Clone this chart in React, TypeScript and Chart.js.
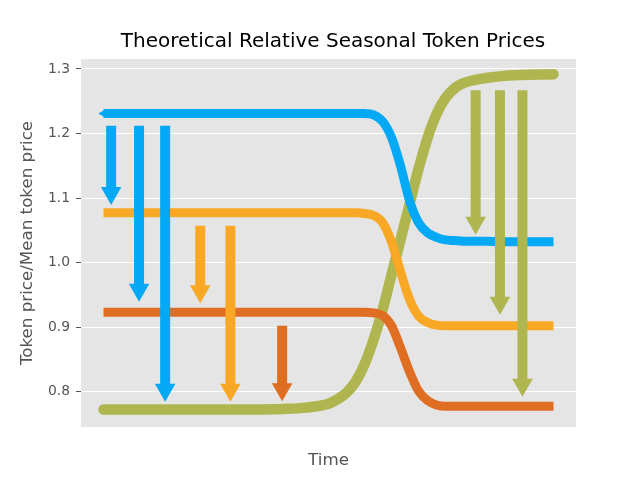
import { useEffect, useRef } from 'react';
import { Chart, registerables } from 'chart.js';

Chart.register(...registerables);

// time axis (no tick labels in the original, just relative position 0..100)
const timeSteps = [0, 10, 20, 30, 40, 45, 50, 52, 54, 56, 58, 60, 62, 64, 66, 68, 70, 72, 74, 76, 78, 80, 85, 90, 100];

const bluePrices = [1.231, 1.231, 1.231, 1.231, 1.231, 1.231, 1.231, 1.231, 1.231, 1.231, 1.231, 1.229, 1.219, 1.194, 1.150, 1.096, 1.062, 1.046, 1.039, 1.035, 1.034, 1.033, 1.033, 1.032, 1.032];
const orangePrices = [1.077, 1.077, 1.077, 1.077, 1.077, 1.077, 1.077, 1.077, 1.077, 1.077, 1.076, 1.073, 1.062, 1.032, 0.986, 0.943, 0.917, 0.907, 0.903, 0.902, 0.902, 0.902, 0.902, 0.902, 0.902];
const redPrices = [0.923, 0.923, 0.923, 0.923, 0.923, 0.923, 0.923, 0.923, 0.923, 0.923, 0.923, 0.922, 0.918, 0.902, 0.868, 0.831, 0.801, 0.786, 0.779, 0.777, 0.777, 0.777, 0.777, 0.777, 0.777];
const olivePrices = [0.772, 0.772, 0.772, 0.772, 0.773, 0.775, 0.781, 0.788, 0.798, 0.815, 0.842, 0.880, 0.926, 0.981, 1.035, 1.090, 1.145, 1.193, 1.230, 1.255, 1.270, 1.278, 1.286, 1.290, 1.292];

const yTicks = [0.8, 0.9, 1.0, 1.1, 1.2, 1.3];

// downward arrows: position in time, start price, tip price
const arrowTimes = [1.7, 7.9, 13.7, 21.5, 28.2, 39.7, 82.7, 88.1, 93.1];
const arrowStarts = [1.212, 1.212, 1.212, 1.057, 1.057, 0.902, 1.267, 1.267, 1.267];
const arrowEnds = [1.089, 0.939, 0.784, 0.937, 0.784, 0.785, 1.043, 0.919, 0.792];

const BLUE = '#03A9F4';
const ORANGE = '#F9A826';
const RED = '#E06E22';
const OLIVE = '#AFB64F';
const arrowColors = [BLUE, BLUE, BLUE, ORANGE, ORANGE, RED, OLIVE, OLIVE, OLIVE];

const FONT = '"DejaVu Sans", sans-serif';
const TITLE = 'Theoretical Relative Seasonal Token Prices';

const arrowPlugin = {
  id: 'priceArrows',
  afterDatasetsDraw(chart: Chart) {
    const { ctx } = chart;
    const x = chart.scales.x;
    const y = chart.scales.y;
    ctx.save();
    arrowTimes.forEach((t, i) => {
      const px = x.getPixelForValue(t);
      const top = y.getPixelForValue(arrowStarts[i]);
      const tip = y.getPixelForValue(arrowEnds[i]);
      const shaft = 5;
      const head = 10.3;
      const headLen = 18;
      ctx.fillStyle = arrowColors[i];
      ctx.beginPath();
      ctx.moveTo(px - shaft, top);
      ctx.lineTo(px + shaft, top);
      ctx.lineTo(px + shaft, tip - headLen);
      ctx.lineTo(px + head, tip - headLen);
      ctx.lineTo(px, tip);
      ctx.lineTo(px - head, tip - headLen);
      ctx.lineTo(px - shaft, tip - headLen);
      ctx.closePath();
      ctx.fill();
    });
    ctx.restore();
  },
};

// grey panel behind the plot + title centred like matplotlib does it
const plotBackground = {
  id: 'plotBackground',
  beforeDraw(chart: Chart) {
    const { ctx, chartArea } = chart;
    ctx.save();
    ctx.fillStyle = '#E5E5E5';
    ctx.fillRect(chartArea.left, chartArea.top, chartArea.right - chartArea.left, chartArea.bottom - chartArea.top);
    ctx.fillStyle = '#000';
    ctx.font = `20px ${FONT}`;
    ctx.textAlign = 'center';
    ctx.textBaseline = 'alphabetic';
    ctx.fillText(TITLE, 333, 46.7);
    ctx.restore();
  },
};

function toPoints(values: number[]) {
  return timeSteps.map((t, i) => ({ x: t, y: values[i] }));
}

export default function App() {
  const chartRef = useRef<HTMLCanvasElement>(null);
  const chartInstance = useRef<Chart | null>(null);

  useEffect(() => {
    if (!chartRef.current) return;
    if (chartInstance.current) chartInstance.current.destroy();

    const line = (label: string, values: number[], color: string, width: number) => ({
      label,
      data: toPoints(values),
      borderColor: color,
      backgroundColor: color,
      borderWidth: width,
      borderCapStyle: 'butt' as const,
      cubicInterpolationMode: 'monotone' as const,
      pointRadius: 0,
      pointHoverRadius: 0,
      fill: false,
    });

    const blue = {
      ...line('blue', bluePrices, BLUE, 9),
      pointStyle: 'triangle',
      pointRotation: -90,
      pointRadius: (c: any) => (c.dataIndex === 0 ? 5.2 : 0),
      pointBorderWidth: 0,
    };
    const olive = { ...line('olive', olivePrices, OLIVE, 10.5), borderCapStyle: 'round' as const };

    chartInstance.current = new Chart(chartRef.current, {
      type: 'line',
      data: {
        datasets: [
          blue,
          line('orange', orangePrices, ORANGE, 9),
          line('red', redPrices, RED, 9),
          olive,
        ],
      },
      options: {
        responsive: false,
        animation: false,
        layout: { padding: { left: 0, right: 64, top: 59, bottom: 0 } },
        plugins: {
          legend: { display: false },
          tooltip: { enabled: false },
          title: { display: false },
        },
        scales: {
          x: {
            type: 'linear',
            min: -5,
            max: 105,
            ticks: { display: false },
            grid: { display: false },
            border: { display: false },
            title: {
              display: true,
              text: 'Time',
              color: '#555',
              font: { family: FONT, size: 16.7 },
              padding: { top: 0, bottom: 9 },
            },
            afterFit: (scale: any) => {
              scale.height = 53;
            },
          },
          y: {
            type: 'linear',
            min: 0.745,
            max: 1.3155,
            afterBuildTicks: (scale: any) => {
              scale.ticks = yTicks.map((v) => ({ value: v }));
            },
            ticks: {
              color: '#555',
              font: { family: FONT, size: 13.9 },
              padding: 6,
              callback: (v: any) => Number(v).toFixed(1),
            },
            grid: { color: '#FFFFFF', tickColor: '#555', tickLength: 5, lineWidth: 1 },
            border: { display: false },
            title: {
              display: true,
              text: 'Token price/Mean token price',
              color: '#555',
              font: { family: FONT, size: 16.7 },
              padding: { top: 18, bottom: 0 },
            },
            afterFit: (scale: any) => {
              scale.width = 81;
            },
          },
        },
      },
      plugins: [plotBackground, arrowPlugin],
    } as any);

    return () => {
      if (chartInstance.current) {
        chartInstance.current.destroy();
        chartInstance.current = null;
      }
    };
  }, []);

  return (
    <div style={{ position: 'absolute', left: 0, top: 0, width: 640, height: 480, background: '#fff' }}>
      <canvas ref={chartRef} width={640} height={480} />
    </div>
  );
}
